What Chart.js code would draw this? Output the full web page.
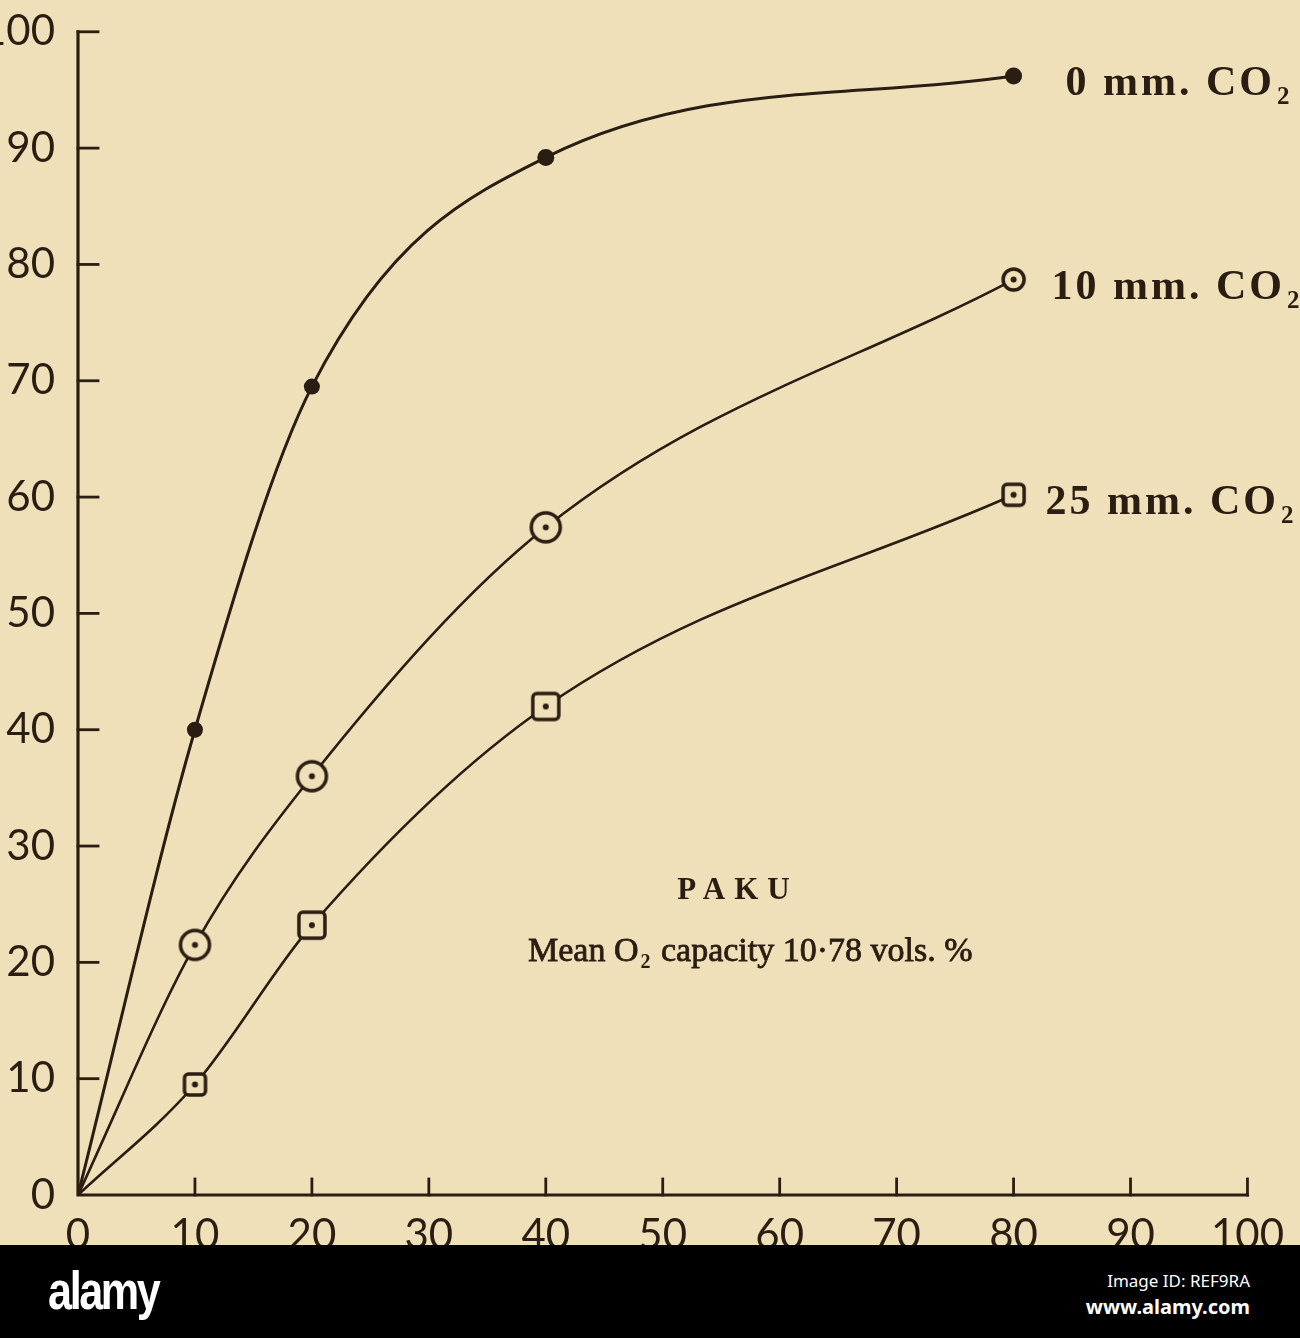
<!DOCTYPE html>
<html>
<head>
<meta charset="utf-8">
<script src="https://cdn.jsdelivr.net/npm/chart.js@4"></script>
<style>
  body { margin: 0; background: #f0e0b9; width: 1300px; height: 1338px; overflow: hidden; position: relative; }
  #wrap { position: absolute; left: 0; top: 0; width: 1300px; height: 1245px; }
  #banner { position: absolute; left: 0; top: 1245px; width: 1300px; height: 93px; background: #000; color: #fff; }
  #logo { position: absolute; left: 48px; top: 14px; font: bold 54px "Liberation Sans Narrow", "Liberation Sans", sans-serif; letter-spacing: -3px; transform: scaleX(0.8); transform-origin: left; }
  #imgid { position: absolute; right: 50px; top: 24px; font: 17px "Noto Sans", sans-serif; }
  #site { position: absolute; right: 50px; top: 48px; font: bold 20px "Noto Sans", sans-serif; }
</style>
</head>
<body>
<div id="wrap"><canvas id="paku"></canvas></div>
<div id="banner">
  <div id="logo">alamy</div>
  <div id="imgid">Image ID: REF9RA</div>
  <div id="site">www.alamy.com</div>
</div>
<script>
// O2 tension (mm.) on x, % saturation on y
const tensions = [0, 10, 20, 40, 80];
const sat0 = [0, 40, 69.5, 89.2, 96.2];
const sat10 = [0, 21.5, 36, 57.4, 78.7];
const sat25 = [0, 9.5, 23.2, 42, 60.2];
const seriesNames = ['0 mm. CO₂', '10 mm. CO₂', '25 mm. CO₂'];
const xTicks = [0, 10, 20, 30, 40, 50, 60, 70, 80, 90, 100];
const yTicks = [0, 10, 20, 30, 40, 50, 60, 70, 80, 90, 100];

const ink = '#2a1d12';
const paper = '#f0e0b9';

function ringMarker(r) {
  const c = document.createElement('canvas');
  const s = Math.ceil(2 * r + 8);
  c.width = s; c.height = s;
  const g = c.getContext('2d');
  g.fillStyle = paper; g.strokeStyle = ink; g.lineWidth = 3.5;
  g.beginPath(); g.arc(s / 2, s / 2, r, 0, Math.PI * 2); g.fill(); g.stroke();
  g.fillStyle = ink;
  g.beginPath(); g.arc(s / 2, s / 2, 3, 0, Math.PI * 2); g.fill();
  return c;
}

function squareMarker(h) {
  const c = document.createElement('canvas');
  const s = Math.ceil(2 * h + 8);
  c.width = s; c.height = s;
  const g = c.getContext('2d');
  g.fillStyle = paper; g.strokeStyle = ink; g.lineWidth = 3.5;
  g.beginPath(); g.roundRect(s / 2 - h, s / 2 - h, 2 * h, 2 * h, 4); g.fill(); g.stroke();
  g.fillStyle = ink;
  g.beginPath(); g.arc(s / 2, s / 2, 3, 0, Math.PI * 2); g.fill();
  return c;
}

const ringBig = ringMarker(14.5), ringSmall = ringMarker(10.5);
const sqBig = squareMarker(13), sqSmall = squareMarker(10.5);

function pts(arr) { return tensions.map((t, i) => ({ x: t, y: arr[i] })); }

// axes with inward ticks, like the printed figure
const axesPlugin = {
  id: 'axes',
  beforeDatasetsDraw(chart) {
    const { ctx, chartArea: a, scales: { x, y } } = chart;
    ctx.save();
    ctx.strokeStyle = ink; ctx.lineWidth = 3.2; ctx.lineCap = 'square';
    ctx.beginPath();
    ctx.moveTo(a.left, a.top); ctx.lineTo(a.left, a.bottom); ctx.lineTo(a.right, a.bottom);
    ctx.stroke();
    ctx.lineWidth = 2.8;
    yTicks.slice(1).forEach(v => {
      const py = y.getPixelForValue(v);
      ctx.beginPath(); ctx.moveTo(a.left, py); ctx.lineTo(a.left + 20, py); ctx.stroke();
    });
    xTicks.slice(1).forEach(v => {
      const px = x.getPixelForValue(v);
      ctx.beginPath(); ctx.moveTo(px, a.bottom); ctx.lineTo(px, a.bottom - 16); ctx.stroke();
    });
    ctx.restore();
  }
};

function drawSub(ctx, text, x, y, size, weight, heavy) {
  const parts = text.split('₂');
  let cx = x;
  ctx.strokeStyle = ink;
  ctx.lineWidth = heavy || 0;
  parts.forEach((p, i) => {
    ctx.font = weight + ' ' + size + 'px "Liberation Serif", serif';
    ctx.fillText(p, cx, y);
    if (heavy) ctx.strokeText(p, cx, y);
    cx += ctx.measureText(p).width;
    if (i < parts.length - 1) {
      ctx.font = 'bold ' + Math.round(size * 0.6) + 'px "Liberation Serif", serif';
      ctx.fillText('2', cx + 2, y + size * 0.22);
      cx += ctx.measureText('2').width + 4;
    }
  });
}

const labelPlugin = {
  id: 'labels',
  afterDatasetsDraw(chart) {
    const { ctx } = chart;
    const gaps = [52, 38, 32];
    ctx.save();
    ctx.fillStyle = ink;
    ctx.textBaseline = 'alphabetic';
    ctx.letterSpacing = '3px';
    chart.data.datasets.forEach((ds, i) => {
      const els = chart.getDatasetMeta(i).data;
      const last = els[els.length - 1];
      drawSub(ctx, seriesNames[i], last.x + gaps[i], last.y + 19, 42, 'bold');
    });
    ctx.textAlign = 'left';
    ctx.letterSpacing = '9px';
    ctx.font = 'bold 31px "Liberation Serif", serif';
    const w = ctx.measureText('PAKU').width;
    ctx.fillText('PAKU', 738 - w / 2, 899);
    ctx.letterSpacing = '0px';
    drawSub(ctx, 'Mean O₂ capacity 10·78 vols. %', 528, 961, 34, 'normal', 0.8);
    ctx.restore();
  }
};

const tickFont = { family: 'Lato, "Open Sans", sans-serif', size: 42, lineHeight: 0.8 };

new Chart(document.getElementById('paku'), {
  type: 'line',
  data: {
    datasets: [
      {
        label: seriesNames[0], data: pts(sat0),
        borderColor: ink, borderWidth: 3, cubicInterpolationMode: 'monotone',
        pointStyle: 'circle', pointRadius: [0, 8, 8, 8.5, 8.5],
        pointBackgroundColor: ink, pointBorderColor: ink, pointBorderWidth: 0
      },
      {
        label: seriesNames[1], data: pts(sat10),
        borderColor: ink, borderWidth: 2.6, cubicInterpolationMode: 'monotone',
        pointStyle: [false, ringBig, ringBig, ringBig, ringSmall], pointRadius: [0, 14, 14, 14, 11]
      },
      {
        label: seriesNames[2], data: pts(sat25),
        borderColor: ink, borderWidth: 2.6, cubicInterpolationMode: 'monotone',
        pointStyle: [false, sqSmall, sqBig, sqBig, sqSmall], pointRadius: [0, 11, 13, 13, 11]
      }
    ]
  },
  options: {
    responsive: true,
    maintainAspectRatio: false,
    animation: false,
    layout: { padding: { top: 20, right: 50, left: 0, bottom: 0 } },
    plugins: { legend: { display: false }, tooltip: { enabled: false } },
    scales: {
      x: {
        type: 'linear', min: 0, max: 100,
        grid: { display: false }, border: { display: false },
        afterFit: s => { s.height = 50; },
        afterBuildTicks: s => { s.ticks = xTicks.map(v => ({ value: v })); },
        ticks: { color: ink, font: tickFont, padding: 16, maxRotation: 0 }
      },
      y: {
        min: 0, max: 100,
        grid: { display: false }, border: { display: false },
        afterFit: s => { s.width = 78; },
        afterBuildTicks: s => { s.ticks = yTicks.map(v => ({ value: v })); },
        ticks: { color: ink, font: tickFont, padding: 15 }
      }
    }
  },
  plugins: [axesPlugin, labelPlugin]
});
</script>
</body>
</html>
